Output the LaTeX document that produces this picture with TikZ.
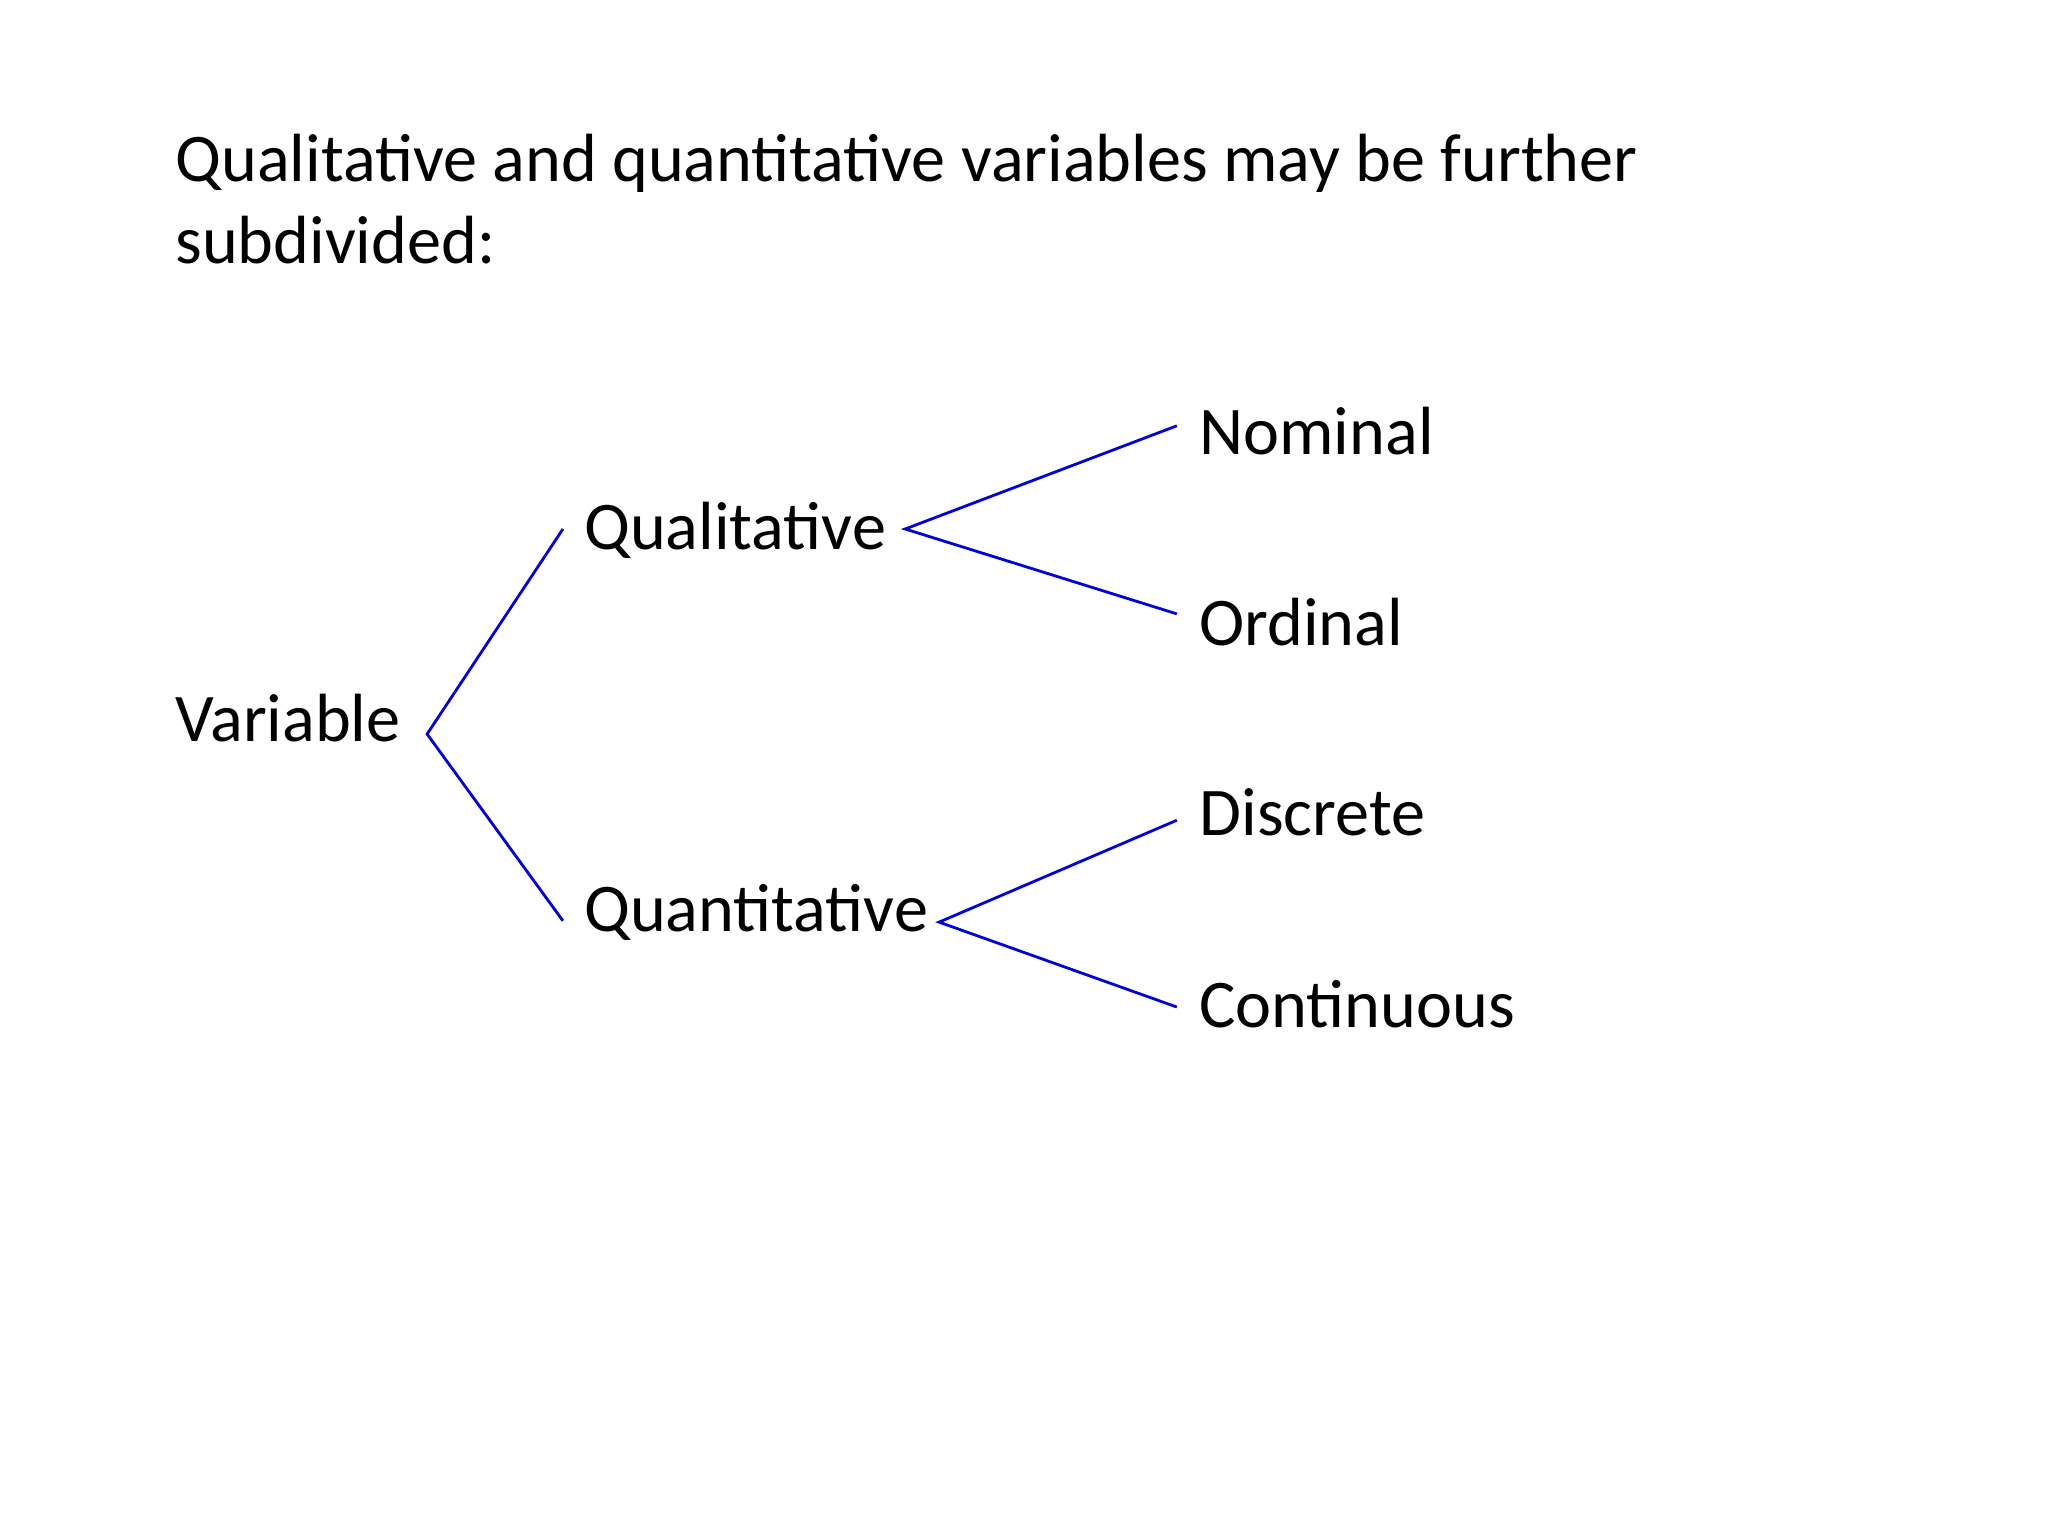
\documentclass[tikz,border=0pt]{standalone}
\usepackage{fontspec}
\setmainfont{Carlito}
\begin{document}
\begin{tikzpicture}[x=0.65306pt,y=-0.65306pt,
  lbl/.style={anchor=base west,inner sep=0pt,font=\fontsize{34.1}{40.5}\selectfont},
  branch/.style={draw={rgb,255:red,0;green,0;blue,220},line width=1.4pt}]
\useasboundingbox[fill=white] (0,0) rectangle (1568,1176);
\node[lbl] (t1) at (134,139) {Qualitative and quantitative variables may be further};
\node[lbl] (t2) at (134,202) {subdivided:};
\node[lbl] (var) at (134,568) {Variable};
\node[lbl] (ql) at (447,421) {Qualitative};
\node[lbl] (qn) at (447,713) {Quantitative};
\node[lbl] (nom) at (918,348) {Nominal};
\node[lbl] (ord) at (918,494) {Ordinal};
\node[lbl] (dis) at (918,640) {Discrete};
\node[lbl] (con) at (918,787) {Continuous};
\coordinate (vV) at (327,562);
\coordinate (vQl) at (431,405);
\coordinate (vQn) at (431,705);
\coordinate (qlV) at (693,405);
\coordinate (qlN) at (901,326);
\coordinate (qlO) at (901,470);
\coordinate (qnV) at (719,706);
\coordinate (qnD) at (901,628);
\coordinate (qnC) at (901,771);
\draw[branch] (vQl) -- (vV) -- (vQn);
\draw[branch] (qlN) -- (qlV) -- (qlO);
\draw[branch] (qnD) -- (qnV) -- (qnC);
\end{tikzpicture}
\end{document}
